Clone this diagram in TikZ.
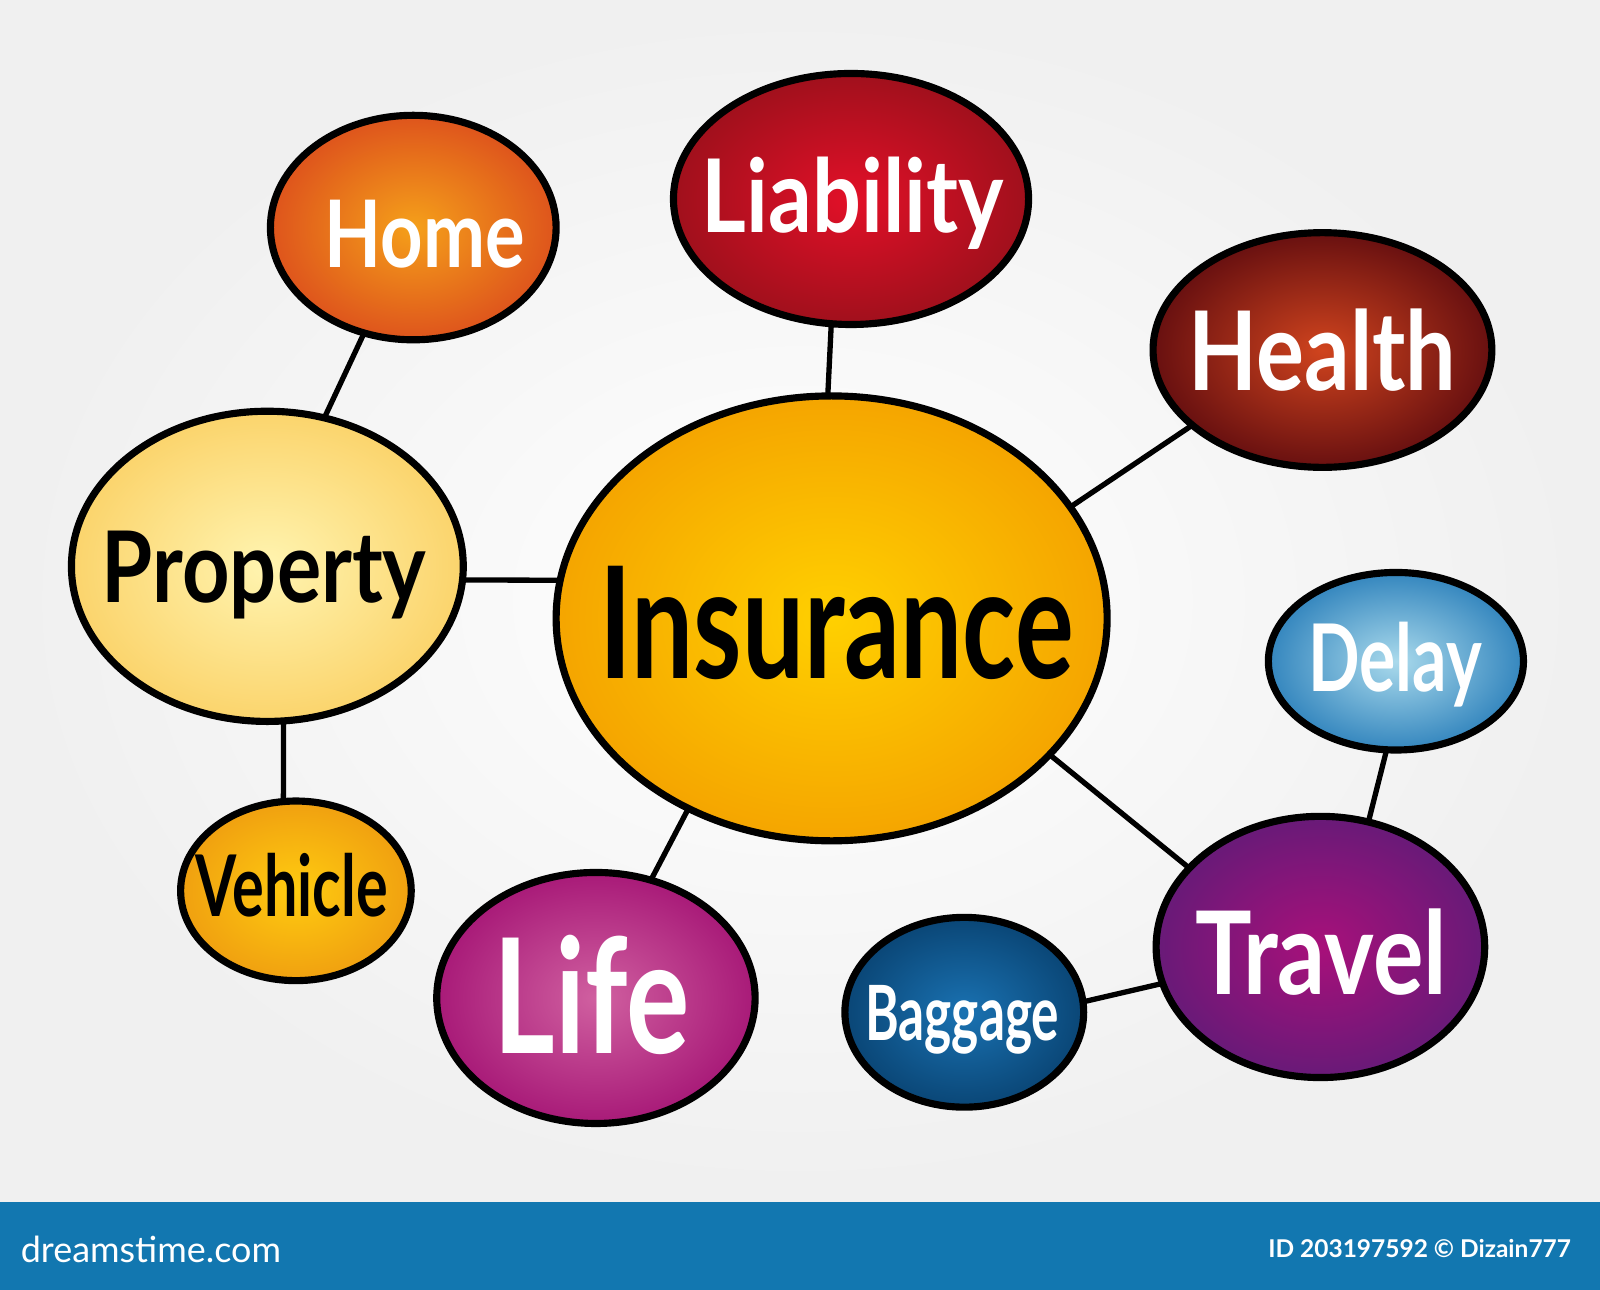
\documentclass[tikz,border=0pt]{standalone}
\usepackage{graphicx}
\usepackage{fontspec}
\setmainfont{Lato}
\usetikzlibrary{shapes.geometric}
\definecolor{banner}{HTML}{1277B0}
\tikzset{
  bub/.style={ellipse, draw=black, line width=3.5pt, inner sep=0pt, outer sep=0pt, shading=radial},
  link/.style={draw=black, line width=2.6pt},
  lbl/.style={anchor=base, inner sep=0pt},
}
\begin{document}
\begin{tikzpicture}[x=0.5pt,y=-0.5pt]
\useasboundingbox (0,0) rectangle (1568,1264);
\shade[inner color=white, outer color=black!6] (0,0) rectangle (1568,1178);
\fill[banner] (0,1178) rectangle (1568,1264);

% bubbles
\node[bub, minimum width=270pt, minimum height=218pt, inner color={rgb,255:red,255;green,208;blue,0}, outer color={rgb,255:red,245;green,165;blue,0}] (ins) at (815,606) {};
\node[bub, minimum width=140pt, minimum height=110pt, inner color={rgb,255:red,245;green,160;blue,26}, outer color={rgb,255:red,222;green,84;blue,28}] (home) at (405,223) {};
\node[bub, minimum width=174pt, minimum height=123pt, inner color={rgb,255:red,226;green,16;blue,40}, outer color={rgb,255:red,160;green,16;blue,28}] (liab) at (834,195) {};
\node[bub, minimum width=166pt, minimum height=115pt, inner color={rgb,255:red,208;green,68;blue,30}, outer color={rgb,255:red,104;green,16;blue,16}] (health) at (1296,343) {};
\node[bub, minimum width=192pt, minimum height=152pt, inner color={rgb,255:red,255;green,244;blue,176}, outer color={rgb,255:red,251;green,212;blue,108}] (prop) at (262,555) {};
\node[bub, minimum width=125pt, minimum height=87pt, inner color={rgb,255:red,170;green,218;blue,236}, outer color={rgb,255:red,52;green,134;blue,190}] (delay) at (1368,648) {};
\node[bub, minimum width=113pt, minimum height=88pt, inner color={rgb,255:red,255;green,204;blue,16}, outer color={rgb,255:red,240;green,160;blue,16}] (veh) at (290,873) {};
\node[bub, minimum width=156pt, minimum height=123pt, inner color={rgb,255:red,208;green,96;blue,160}, outer color={rgb,255:red,168;green,26;blue,120}] (life) at (584,978) {};
\node[bub, minimum width=117pt, minimum height=93pt, inner color={rgb,255:red,26;green,114;blue,178}, outer color={rgb,255:red,10;green,70;blue,118}] (bag) at (945,992) {};
\node[bub, minimum width=161pt, minimum height=128pt, inner color={rgb,255:red,168;green,16;blue,122}, outer color={rgb,255:red,104;green,26;blue,120}] (trav) at (1294,928) {};

% connectors
\draw[link] (home.-115) -- (prop.69);
\draw[link] (prop.-4) -- (ins.172);
\draw[link] (liab.-99) -- (ins.91);
\draw[link] (health.-150) -- (ins.25);
\draw[link] (prop.-84) -- (veh.98);
\draw[link] (ins.-127) -- (life.65);
\draw[link] (ins.-32) -- (trav.149);
\draw[link] (delay.-96) -- (trav.69);
\draw[link] (bag.5) -- (trav.193);

% labels
\node[lbl] (t-ins) at (820,665) {\resizebox{232pt}{55pt}{\bfseries Insurance}};
\node[lbl, text=white] (t-home) at (416,262) {\resizebox{98pt}{33pt}{\bfseries Home}};
\node[lbl, text=white] (t-liab) at (836,228) {\resizebox{148pt}{37pt}{\bfseries Liability}};
\node[lbl, text=white] (t-health) at (1296,383) {\resizebox{131pt}{40pt}{\bfseries Health}};
\node[lbl] (t-prop) at (259,590) {\resizebox{159pt}{35pt}{\bfseries Property}};
\node[lbl, text=white] (t-delay) at (1367,678) {\resizebox{85pt}{34pt}{\bfseries Delay}};
\node[lbl] (t-veh) at (286,898) {\resizebox{94pt}{31pt}{\bfseries Vehicle}};
\node[lbl, text=white] (t-life) at (580,1032) {\resizebox{96pt}{58pt}{\bfseries Life}};
\node[lbl, text=white] (t-bag) at (943,1020) {\resizebox{95pt}{27pt}{\bfseries Baggage}};
\node[lbl, text=white] (t-trav) at (1295,975) {\resizebox{123pt}{42pt}{\bfseries Travel}};

% banner text
\node[anchor=base west, inner sep=0pt, text=white, font=\fontsize{17.6}{20}\selectfont] (b-left) at (20,1237) {dreamstime.com};
\node[anchor=base east, inner sep=0pt, text=white, font=\bfseries\fontsize{12}{14}\selectfont] (b-right) at (1540,1232) {ID 203197592 © Dizain777};
\end{tikzpicture}
\end{document}
